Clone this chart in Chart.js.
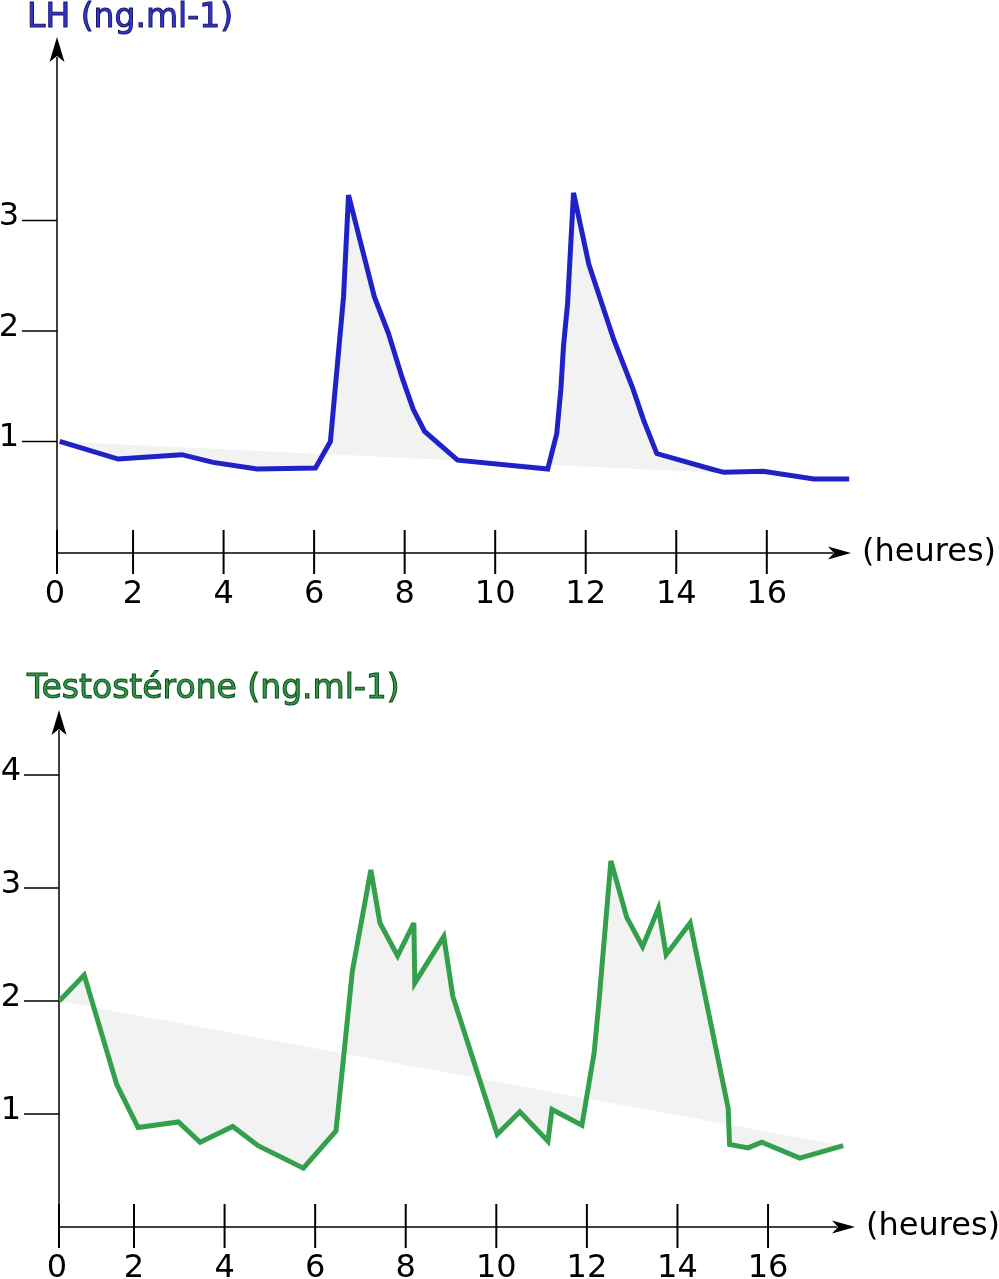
<!DOCTYPE html>
<html>
<head>
<meta charset="utf-8">
<script src="https://cdn.jsdelivr.net/npm/chart.js@4/dist/chart.umd.min.js"></script>
<style>
  html, body { margin: 0; padding: 0; background: #fff; overflow: hidden; }
  canvas { position: absolute; left: 0; }
</style>
</head>
<body>
<canvas id="lh" width="999" height="640" style="top:0"></canvas>
<canvas id="testo" width="999" height="640" style="top:640px"></canvas>
<script>
// time axis (hours) and tick labels
const xTickLabels = [0, 2, 4, 6, 8, 10, 12, 14, 16];

// LH (ng.ml-1)
const lhTicks = [1, 2, 3];
const lhHours = [0.38, 1.67, 3.08, 3.77, 4.74, 6.03, 6.36, 6.65, 6.76, 7.33, 7.64, 7.95, 8.19, 8.44, 9.17,
  11.16, 11.36, 11.45, 11.51, 11.60, 11.73, 12.07, 12.62, 13.04, 13.28, 13.57, 14.77, 15.05, 15.92, 17.04, 17.82];
const lhValues = [1.00, 0.84, 0.88, 0.81, 0.75, 0.76, 1.00, 2.31, 3.23, 2.31, 1.98, 1.57, 1.29, 1.09, 0.83,
  0.75, 1.07, 1.47, 1.87, 2.25, 3.25, 2.60, 1.92, 1.48, 1.19, 0.89, 0.75, 0.72, 0.73, 0.66, 0.66];

// Testostérone (ng.ml-1)
const testoTicks = [1, 2, 3, 4];
const testoHours = [0.35, 0.90, 1.62, 2.09, 2.98, 3.46, 4.18, 4.74, 5.74, 6.46, 6.64, 6.82, 7.23, 7.43, 7.82,
  8.18, 8.20, 8.84, 9.04, 10.02, 10.52, 11.14, 11.23, 11.89, 12.16, 12.27, 12.53, 12.88, 13.23, 13.58,
  13.75, 14.28, 15.12, 15.15, 15.56, 15.86, 16.70, 17.66];
const testoValues = [2.00, 2.23, 1.26, 0.88, 0.93, 0.75, 0.89, 0.72, 0.52, 0.85, 1.55, 2.26, 3.16, 2.69, 2.40,
  2.69, 2.16, 2.57, 2.04, 0.82, 1.02, 0.76, 1.04, 0.90, 1.54, 2.01, 3.24, 2.74, 2.48, 2.82,
  2.41, 2.69, 1.05, 0.73, 0.70, 0.75, 0.61, 0.72];

const FONT = '32px "DejaVu Sans"';

// axes with arrows, ticks crossing the time axis, titles
const arrowAxes = {
  id: 'arrowAxes',
  beforeDatasetsDraw(chart, args, o) {
    const { ctx, chartArea: a, scales: { x, y } } = chart;
    const x0 = a.left, yA = a.bottom;
    ctx.save();
    ctx.strokeStyle = '#000';
    ctx.fillStyle = '#000';

    // vertical axis + arrow
    ctx.lineWidth = 1.5;
    ctx.beginPath();
    ctx.moveTo(x0, yA);
    ctx.lineTo(x0, a.top + 20);
    ctx.stroke();
    ctx.beginPath();
    ctx.moveTo(x0, a.top);
    ctx.lineTo(x0 - 7.5, a.top + 25);
    ctx.lineTo(x0, a.top + 19);
    ctx.lineTo(x0 + 7.5, a.top + 25);
    ctx.closePath();
    ctx.fill();

    // horizontal axis + arrow
    ctx.beginPath();
    ctx.moveTo(x0, yA);
    ctx.lineTo(a.right - 18, yA);
    ctx.stroke();
    ctx.beginPath();
    ctx.moveTo(a.right, yA);
    ctx.lineTo(a.right - 23, yA - 6.5);
    ctx.lineTo(a.right - 17, yA);
    ctx.lineTo(a.right - 23, yA + 6.5);
    ctx.closePath();
    ctx.fill();

    ctx.font = FONT;
    ctx.textBaseline = 'alphabetic';

    // time ticks
    ctx.lineWidth = 2;
    ctx.textAlign = 'center';
    xTickLabels.forEach(v => {
      const px = v === 0 ? x0 : x.getPixelForValue(v);
      ctx.beginPath();
      ctx.moveTo(px, yA - 23);
      ctx.lineTo(px, yA + 21);
      ctx.stroke();
      ctx.fillText(String(v), px - (v === 0 ? 2 : 0), yA + 50);
    });
    ctx.textAlign = 'left';
    ctx.fillText('(heures)', a.right + 11, yA + 8);

    // value ticks
    ctx.lineWidth = 1.5;
    ctx.textAlign = 'right';
    o.ticks.forEach(v => {
      const py = y.getPixelForValue(v);
      ctx.beginPath();
      ctx.moveTo(x0 - 35, py);
      ctx.lineTo(x0, py);
      ctx.stroke();
      ctx.fillText(String(v), o.labelX, py + 5);
    });

    // title
    ctx.textAlign = 'left';
    ctx.font = '33px "DejaVu Sans"';
    ctx.fillStyle = o.titleFill;
    ctx.fillText(o.title, 27, o.titleY);
    ctx.lineWidth = 1;
    ctx.strokeStyle = o.titleStroke;
    ctx.strokeText(o.title, 27, o.titleY);
    ctx.restore();

    // sharp spikes get cut like in the original drawing
    ctx.miterLimit = 4;
  }
};

function makeChart(id, hours, values, color, cfg) {
  const pts = hours.map((h, i) => ({ x: h, y: values[i] }));
  const base = [pts[0], pts[pts.length - 1]];
  return new Chart(document.getElementById(id), {
    type: 'line',
    data: {
      datasets: [
        {
          data: pts,
          borderColor: color,
          borderWidth: 5,
          borderJoinStyle: 'miter',
          backgroundColor: '#f2f2f2',
          fill: '+1',
          pointRadius: 0,
          tension: 0
        },
        {
          data: base,
          borderWidth: 0,
          borderColor: 'rgba(0,0,0,0)',
          pointRadius: 0,
          fill: false
        }
      ]
    },
    options: {
      responsive: false,
      devicePixelRatio: 1,
      animation: false,
      layout: { padding: cfg.padding },
      scales: {
        x: { type: 'linear', display: false, min: cfg.xMin, max: cfg.xMax },
        y: { type: 'linear', display: false, min: cfg.yMin, max: cfg.yMax }
      },
      plugins: {
        legend: { display: false },
        tooltip: { enabled: false },
        arrowAxes: cfg.axes
      }
    },
    plugins: [arrowAxes]
  });
}

makeChart('lh', lhHours, lhValues, '#2121c8', {
  padding: { left: 57, right: 148, top: 37, bottom: 87 },
  xMin: 0.32, xMax: 17.86, yMin: -0.01, yMax: 4.66,
  axes: { ticks: lhTicks, labelX: 19, title: 'LH (ng.ml-1)', titleY: 27,
          titleFill: '#3434dc', titleStroke: '#17175e' }
});

makeChart('testo', testoHours, testoValues, '#34a04c', {
  padding: { left: 59, right: 144, top: 70, bottom: 53 },
  xMin: 0.344, xMax: 17.92, yMin: 0, yMax: 4.575,
  axes: { ticks: testoTicks, labelX: 21, title: 'Testostérone (ng.ml-1)', titleY: 58,
          titleFill: '#2f9a45', titleStroke: '#0f4a1d' }
});
</script>
</body>
</html>
